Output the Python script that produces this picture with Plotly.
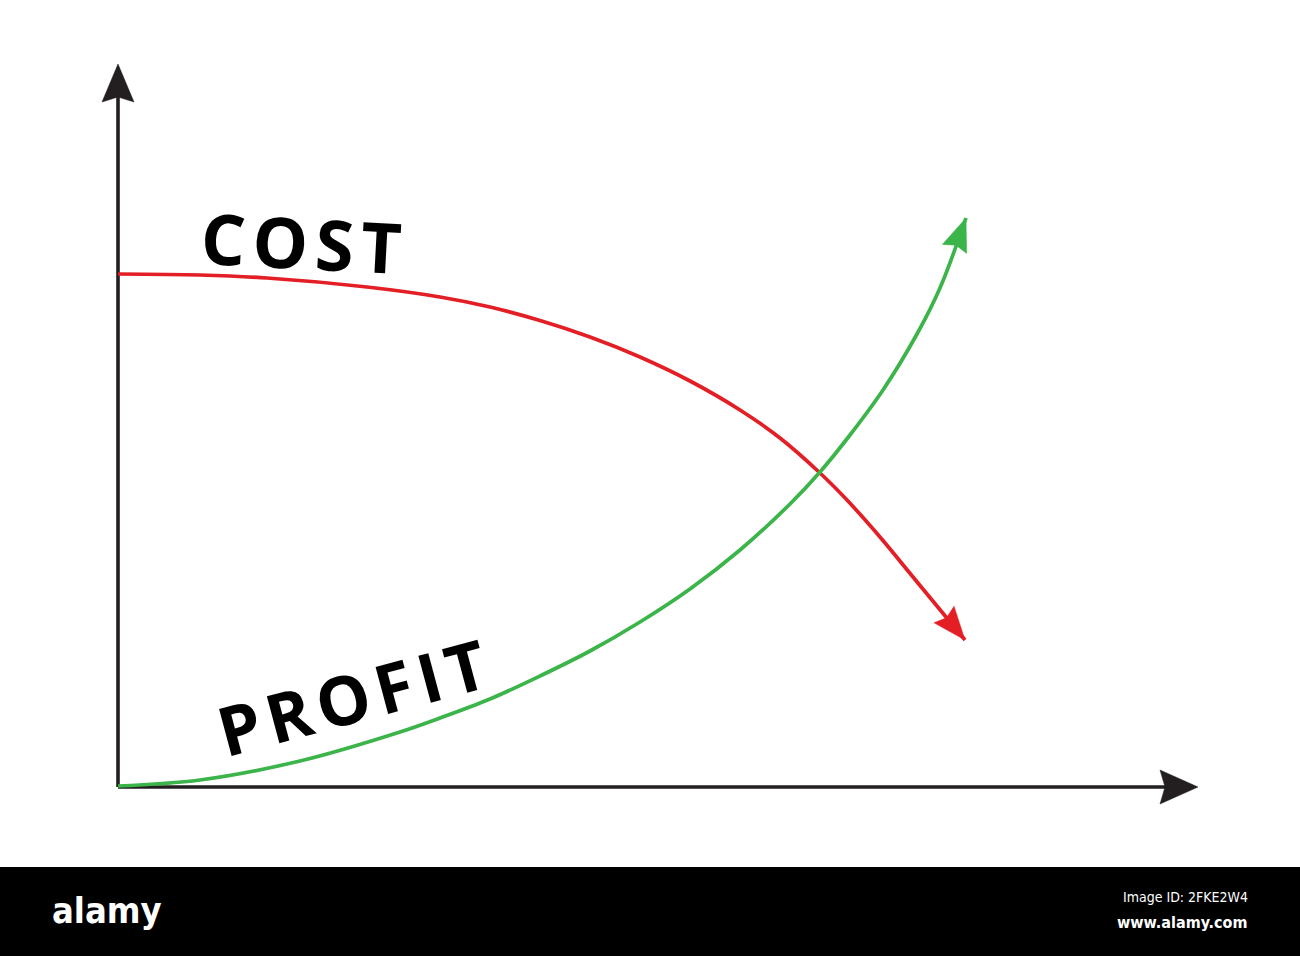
import numpy as np
import plotly.graph_objects as go

# chart units: 1 unit = 100 px on both axes, origin at the axes corner
cost_x = [0, 0.82, 1.49, 2.49, 3.22, 3.72, 4.22, 4.72, 5.22, 5.72, 6.22, 6.62, 7.02, 7.29, 7.62, 7.95, 8.47]
cost_y = [5.13, 5.12, 5.09, 5.00, 4.90, 4.80, 4.665, 4.50, 4.30, 4.06, 3.77, 3.49, 3.14, 2.87, 2.50, 2.10, 1.47]
profit_x = [0, 0.82, 1.82, 2.82, 3.22, 3.72, 4.22, 4.72, 5.22, 5.72, 6.22, 6.72, 7.02, 7.32, 7.65, 7.99, 8.22, 8.48]
profit_y = [0.01, 0.07, 0.26, 0.55, 0.69, 0.88, 1.11, 1.36, 1.65, 1.98, 2.37, 2.83, 3.15, 3.52, 3.97, 4.53, 4.99, 5.69]
labels = ["COST", "PROFIT"]

x_axis_end = 10.80
y_axis_end = 7.23

RED = "#e31e25"
GREEN = "#3bb44a"
INK = "#231f20"
HAIR = "\u200a"


def arrow_head(x_tip, y_tip, x_from, y_from, length, half, notch):
    dx, dy = x_tip - x_from, y_tip - y_from
    n = np.hypot(dx, dy)
    ux, uy = dx / n, dy / n
    vx, vy = -uy, ux
    bx, by = x_tip - ux * length, y_tip - uy * length
    nx, ny = x_tip - ux * (length - notch), y_tip - uy * (length - notch)
    xs = [x_tip, bx + vx * half, nx, bx - vx * half, x_tip]
    ys = [y_tip, by + vy * half, ny, by - vy * half, y_tip]
    return xs, ys


fig = go.Figure()

# axes
fig.add_trace(go.Scatter(x=[0, 0], y=[0, y_axis_end - 0.3], mode="lines",
                         line=dict(color=INK, width=3.6)))
fig.add_trace(go.Scatter(x=[0, x_axis_end - 0.3], y=[0, 0], mode="lines",
                         line=dict(color=INK, width=3.6)))
for xs, ys in [arrow_head(0, y_axis_end, 0, 0, 0.38, 0.16, 0.05),
               arrow_head(x_axis_end, 0, 0, 0, 0.38, 0.17, 0.05)]:
    fig.add_trace(go.Scatter(x=xs, y=ys, mode="lines", fill="toself",
                             fillcolor=INK, line=dict(color=INK, width=0.5)))

# curves
for cx, cy, col in [(cost_x, cost_y, RED), (profit_x, profit_y, GREEN)]:
    fig.add_trace(go.Scatter(x=cx, y=cy, mode="lines",
                             line=dict(color=col, width=3.7, shape="spline", smoothing=1.0)))
    xs, ys = arrow_head(cx[-1], cy[-1], cx[-2], cy[-2], 0.33, 0.13, 0.04)
    fig.add_trace(go.Scatter(x=xs, y=ys, mode="lines", fill="toself",
                             fillcolor=col, line=dict(color=col, width=0.5)))

# curve labels (hair spaces give the wide letter spacing)
fig.add_annotation(x=1.83, y=5.45, text="<b>" + HAIR.join(labels[0]) + "</b>", showarrow=False,
                   textangle=3, font=dict(family="Open Sans", size=70, color="black"))
fig.add_annotation(x=2.33, y=0.91, text="<b>" + HAIR.join(labels[1]) + "</b>", showarrow=False,
                   textangle=-15, font=dict(family="Open Sans", size=68, color="black"))

# stock-photo footer band
fig.add_shape(type="rect", xref="paper", yref="paper", x0=0, x1=1, y0=0, y1=89 / 956,
              fillcolor="black", line=dict(width=0), layer="above")
fig.add_annotation(xref="paper", yref="paper", x=50 / 1300, y=46 / 956, xanchor="left",
                   yanchor="middle", text="<b>alamy</b>", showarrow=False,
                   font=dict(family="DejaVu Sans Condensed", size=36, color="white"))
fig.add_annotation(xref="paper", yref="paper", x=1250 / 1300, y=59 / 956, xanchor="right",
                   yanchor="middle", text="Image ID: 2FKE2W4", showarrow=False,
                   font=dict(family="DejaVu Sans Condensed", size=14, color="white"))
fig.add_annotation(xref="paper", yref="paper", x=1250 / 1300, y=34 / 956, xanchor="right",
                   yanchor="middle", text="<b>www.alamy.com</b>", showarrow=False,
                   font=dict(family="DejaVu Sans Condensed", size=16, color="white"))

fig.update_layout(
    width=1300, height=956, showlegend=False,
    margin=dict(l=0, r=0, t=0, b=0),
    paper_bgcolor="white", plot_bgcolor="white",
    xaxis=dict(range=[-1.18, 11.82], visible=False),
    yaxis=dict(range=[-1.69, 7.87], visible=False),
)

fig.write_html("out.html", config={"displayModeBar": False},
               post_script="document.body.style.margin = '0';")
